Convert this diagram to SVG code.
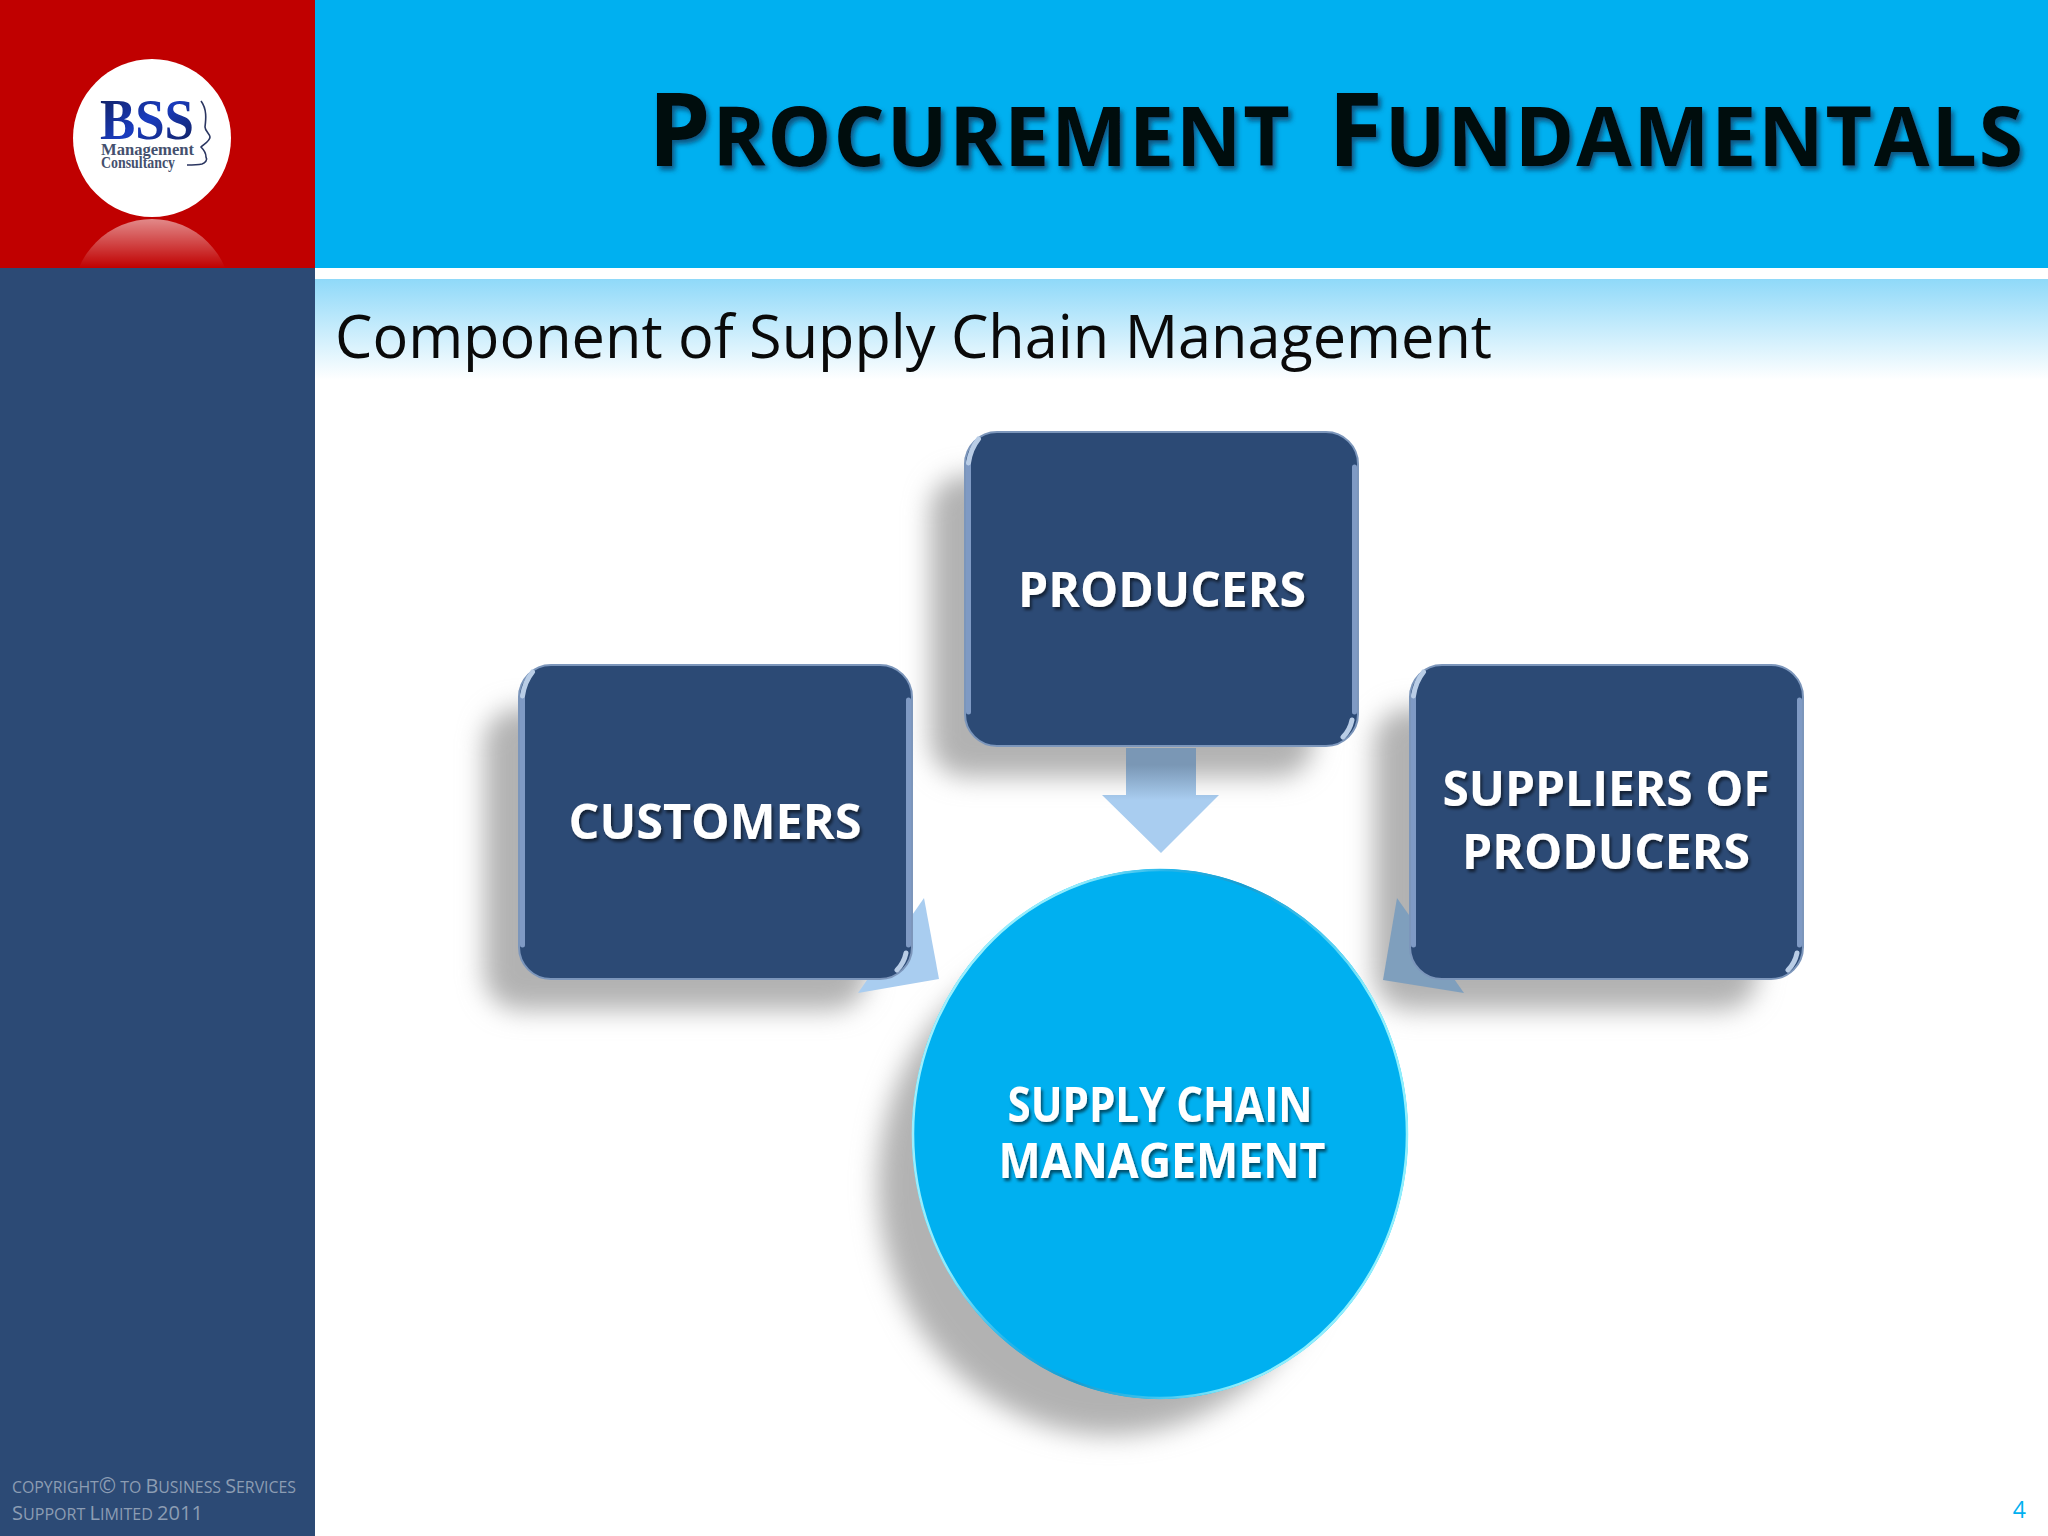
<svg xmlns="http://www.w3.org/2000/svg" width="2048" height="1536" viewBox="0 0 2048 1536">
<defs>
<style>
.oc{font-family:"Open Sans","Noto Sans","Liberation Sans",sans-serif}
.lbl{font-family:"Open Sans","Noto Sans","Liberation Sans",sans-serif;font-weight:700;fill:#fff;text-anchor:middle;font-size:48px;filter:url(#ts)}
.box{fill:#2c4a75;stroke:#7c96bb;stroke-width:2}
.hl{fill:none;stroke:#7f9ac4;stroke-width:5;stroke-linecap:round}
.hc{fill:none;stroke:#b9cde6;stroke-width:5;stroke-linecap:round}
.sh{fill:#b2b2b2;filter:url(#b)}
.ft{font-family:"Open Sans","Noto Sans","Liberation Sans",sans-serif;fill:#8c9db3}
</style>
<filter id="b" x="-25%" y="-25%" width="150%" height="150%"><feGaussianBlur stdDeviation="13"/></filter>
<filter id="ts" x="-10%" y="-20%" width="120%" height="150%"><feDropShadow dx="2" dy="3" stdDeviation="1.5" flood-color="#000" flood-opacity=".55"/></filter>
<filter id="tt" x="-5%" y="-20%" width="110%" height="150%"><feDropShadow dx="3" dy="4" stdDeviation="2.5" flood-color="#0a3a60" flood-opacity=".75"/></filter>
<linearGradient id="band" x1="0" y1="0" x2="0" y2="1"><stop offset="0" stop-color="#8fd9f9"/><stop offset="1" stop-color="#fff"/></linearGradient>
<linearGradient id="refl" gradientUnits="userSpaceOnUse" x1="0" y1="218" x2="0" y2="268"><stop offset="0" stop-color="#fff" stop-opacity=".55"/><stop offset="1" stop-color="#fff" stop-opacity="0"/></linearGradient>
<linearGradient id="dn" gradientUnits="userSpaceOnUse" x1="0" y1="765" x2="0" y2="800"><stop offset="0" stop-color="#7a97b5"/><stop offset="1" stop-color="#a9cdf0"/></linearGradient>
<linearGradient id="bssg" x1="0" y1="0" x2="1" y2="1"><stop offset="0" stop-color="#101c50"/><stop offset=".5" stop-color="#1a3cc0"/><stop offset="1" stop-color="#101c50"/></linearGradient>
<linearGradient id="rim" gradientUnits="userSpaceOnUse" x1="912" y1="1050" x2="1408" y2="1218">
<stop offset="0" stop-color="#9ff0fd"/><stop offset=".2" stop-color="#8fecfd"/><stop offset=".35" stop-color="#25b5ea"/><stop offset=".5" stop-color="#189ccf"/><stop offset=".65" stop-color="#40c4ee"/><stop offset=".8" stop-color="#8feffd"/><stop offset="1" stop-color="#8feffd"/>
</linearGradient>
<clipPath id="rc"><rect x="0" y="200" width="315" height="68"/></clipPath>
</defs>

<g id="background">
<rect width="2048" height="1536" fill="#fff"/>
<rect x="315" y="0" width="1733" height="268" fill="#00b0f0"/>
<rect x="315" y="279" width="1733" height="101" fill="url(#band)"/>
<rect x="0" y="268" width="315" height="1268" fill="#2c4a75"/>
<rect x="0" y="0" width="315" height="268" fill="#c00000"/>
</g>

<g id="logo">
<circle cx="152" cy="298" r="79" fill="url(#refl)" clip-path="url(#rc)"/>
<circle cx="152" cy="138" r="79" fill="#fff"/>
<text x="100" y="139" font-family="Liberation Serif,serif" font-weight="700" font-size="58" fill="url(#bssg)" textLength="94" lengthAdjust="spacingAndGlyphs">BSS</text>
<text x="101" y="155" font-family="Liberation Serif,serif" font-size="17" font-weight="700" fill="#44506e" textLength="93" lengthAdjust="spacingAndGlyphs">Management</text>
<text x="101" y="168" font-family="Liberation Serif,serif" font-size="16" font-weight="700" fill="#44506e" textLength="74" lengthAdjust="spacingAndGlyphs">Consultancy</text>
<path d="M201 101c6 8 5 18 4 26 0 4 5 7 5 10 0 4-6 7-9 10 3 3 5 6 5 10 2 3-1 6-4 7-5 1-11 1-15 1" fill="none" stroke="#2a3560" stroke-width="1.6"/>
</g>

<g id="title">
<text class="oc" x="648" y="166" font-weight="700" fill="#05080f" filter="url(#tt)" textLength="1377" lengthAdjust="spacingAndGlyphs" font-size="83" letter-spacing="2" word-spacing="14"><tspan font-size="103">P</tspan>ROCUREMENT <tspan font-size="103">F</tspan>UNDAMENTALS</text>
<text class="oc" x="335" y="358" font-size="60" fill="#0a0a0a" textLength="1157" lengthAdjust="spacingAndGlyphs">Component of Supply Chain Management</text>
</g>

<g id="shadows">
<rect class="sh" x="484" y="708" width="384" height="302" rx="36"/>
<rect class="sh" x="930" y="475" width="384" height="302" rx="36"/>
<rect class="sh" x="1374" y="708" width="384" height="302" rx="36"/>
<ellipse class="sh" cx="1110" cy="1185" rx="232" ry="250"/>
</g>

<g id="connectors">
<polygon id="arrow-left" points="924,898 939,979 858,993" fill="#a9cdf0"/>
<polygon id="arrow-down" points="1126,748 1196,748 1196,795 1219,795 1161,853 1102,795 1126,795" fill="url(#dn)"/>
<polygon id="arrow-right" points="1397,898 1383,980 1464,993" fill="#7f9fbd"/>
</g>

<g id="node-customers">
<rect class="box" x="519" y="665" width="393" height="314" rx="32"/>
<path class="hl" d="M522.500 695V945M908.500 700V945"/>
<path class="hc" d="M522.500 696q2-14 10-24M906 953q-2 10-9 17"/>
<text class="lbl" x="715" y="839" textLength="293" lengthAdjust="spacingAndGlyphs">CUSTOMERS</text>
</g>

<g id="node-producers">
<rect class="box" x="965" y="432" width="393" height="314" rx="32"/>
<path class="hl" d="M968.500 462V712M1354.500 467V712"/>
<path class="hc" d="M968.500 463q2-14 10-24M1352 720q-2 10-9 17"/>
<text class="lbl" x="1162" y="607" textLength="288" lengthAdjust="spacingAndGlyphs">PRODUCERS</text>
</g>

<g id="node-suppliers">
<rect class="box" x="1410" y="665" width="393" height="314" rx="32"/>
<path class="hl" d="M1413.500 695V945M1799.500 700V945"/>
<path class="hc" d="M1413.500 696q2-14 10-24M1797 953q-2 10-9 17"/>
<text class="lbl" x="1606" y="806" textLength="327" lengthAdjust="spacingAndGlyphs">SUPPLIERS OF</text>
<text class="lbl" x="1606" y="869" textLength="288" lengthAdjust="spacingAndGlyphs">PRODUCERS</text>
</g>

<g id="node-scm">
<ellipse cx="1160" cy="1134" rx="248" ry="265" fill="#00b0f0"/>
<ellipse cx="1160" cy="1134" rx="247" ry="264" fill="none" stroke="url(#rim)" stroke-width="2.500"/>
<text class="lbl" x="1160" y="1122" font-size="44" textLength="305" lengthAdjust="spacingAndGlyphs">SUPPLY CHAIN</text>
<text class="lbl" x="1162" y="1178" font-size="44" textLength="327" lengthAdjust="spacingAndGlyphs">MANAGEMENT</text>
</g>

<g id="footer">
<text class="ft" x="12" y="1493" font-size="16" textLength="284" lengthAdjust="spacingAndGlyphs">COPYRIGHT<tspan font-size="21">©</tspan> TO <tspan font-size="20">B</tspan>USINESS <tspan font-size="20">S</tspan>ERVICES</text>
<text class="ft" x="12" y="1520" font-size="16" textLength="191" lengthAdjust="spacingAndGlyphs"><tspan font-size="20">S</tspan>UPPORT <tspan font-size="20">L</tspan>IMITED <tspan font-size="20">2011</tspan></text>
<text class="oc" x="2026" y="1518" font-size="23" fill="#00b0f0" text-anchor="end">4</text>
</g>
</svg>
